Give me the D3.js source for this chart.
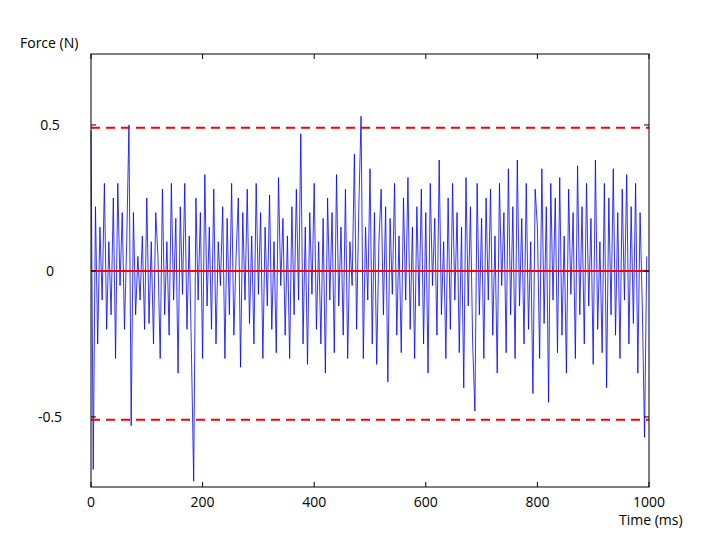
<!DOCTYPE html>
<html>
<head>
<meta charset="utf-8">
<script src="https://cdn.jsdelivr.net/npm/d3@7"></script>
<style>
  body { margin: 0; background: #fff; }
  text { font-family: "Open Sans", "DejaVu Sans", sans-serif; }
</style>
</head>
<body>
<script>
// force samples, one every 4 ms
const sampleStep = 4;
const forceValues = [
  0.48,-0.68,0.22,-0.25,0.15,-0.1,0.3,-0.2,0.1,-0.15,
  0.25,-0.3,0.3,-0.05,0.2,-0.2,0.1,0.5,-0.53,0.2,
  -0.15,0.05,-0.1,0.12,-0.2,0.25,-0.18,0.1,-0.25,0.2,
  0.05,-0.3,0.28,-0.15,0.1,-0.22,0.3,-0.1,0.18,-0.35,
  0.22,-0.08,0.3,-0.2,0.12,-0.28,-0.72,0.25,-0.1,0.2,
  -0.3,0.33,-0.12,0.15,-0.2,0.28,-0.25,0.1,-0.05,0.22,
  -0.3,0.18,-0.15,0.3,-0.22,0.05,0.25,-0.33,0.2,-0.1,
  0.28,-0.18,0.12,-0.25,0.3,-0.08,0.2,-0.3,0.15,-0.12,
  0.26,-0.2,0.1,-0.28,0.32,-0.05,0.18,-0.22,0.12,-0.3,
  0.22,-0.15,0.28,-0.1,0.47,-0.25,0.15,-0.32,0.2,-0.08,
  0.3,-0.2,0.1,-0.25,0.18,-0.35,0.25,-0.1,0.2,-0.28,
  0.33,-0.12,0.15,-0.22,0.28,-0.3,0.1,-0.05,0.4,-0.2,
  0.22,0.53,-0.3,0.15,-0.1,0.35,-0.25,0.2,-0.32,0.1,
  0.28,-0.15,0.22,-0.38,0.18,-0.08,0.3,-0.22,0.12,-0.28,
  0.25,-0.1,0.32,-0.2,0.15,-0.3,0.22,-0.12,0.28,-0.25,
  0.2,-0.35,0.3,-0.05,0.18,-0.22,0.38,-0.15,0.1,-0.3,
  0.25,-0.2,0.3,-0.1,0.2,-0.28,0.15,-0.4,0.32,-0.12,
  0.22,-0.25,-0.48,0.3,-0.15,0.18,-0.3,0.25,-0.1,0.28,
  -0.22,0.12,-0.35,0.3,-0.05,0.2,-0.28,0.35,-0.15,0.22,
  -0.3,0.38,-0.12,0.18,-0.25,0.3,-0.2,0.1,-0.42,0.28,
  0.15,-0.3,0.35,-0.18,0.22,-0.45,0.3,-0.1,0.25,-0.28,
  0.32,-0.22,0.12,-0.35,0.28,-0.08,0.2,-0.3,0.36,-0.15,
  0.22,-0.25,0.3,-0.12,0.18,-0.32,0.38,-0.2,0.1,-0.28,
  0.3,-0.4,0.25,-0.15,0.35,-0.22,0.2,-0.3,0.28,-0.1,
  0.33,-0.25,0.22,-0.18,0.3,-0.35,0.2,-0.12,-0.57,0.05
];
const xTicks = [0, 200, 400, 600, 800, 1000];
const yTicks = [0.5, 0, -0.5];
const yTickLabels = ["0.5", "0", "-0.5"];
const thresholds = [0.49, -0.51];

const width = 721, height = 541;
const plotLeft = 91, plotRight = 649, plotTop = 54, plotBottom = 487;

const svg = d3.select("body").append("svg")
    .attr("width", width).attr("height", height);

const x = d3.scaleLinear().domain([0, 1000]).range([plotLeft, plotRight]);
const y = d3.scaleLinear().domain([-0.74, 0.743]).range([plotBottom, plotTop]);

// signal
const line = d3.line()
    .x((d, i) => x(i * sampleStep))
    .y(d => y(d));
svg.append("path")
    .datum(forceValues)
    .attr("d", line)
    .attr("fill", "none")
    .attr("stroke", "#0000ff")
    .attr("stroke-width", 0.8);

// zero line and thresholds
svg.append("line")
    .attr("x1", plotLeft).attr("x2", plotRight)
    .attr("y1", y(0)).attr("y2", y(0))
    .attr("stroke", "red").attr("stroke-width", 2);
svg.selectAll(".thr").data(thresholds).enter().append("line")
    .attr("x1", plotLeft).attr("x2", plotRight)
    .attr("y1", d => y(d)).attr("y2", d => y(d))
    .attr("stroke", "red").attr("stroke-width", 2)
    .attr("stroke-dasharray", "9,6");

// frame
svg.append("rect")
    .attr("x", plotLeft).attr("y", plotTop)
    .attr("width", plotRight - plotLeft).attr("height", plotBottom - plotTop)
    .attr("fill", "none").attr("stroke", "#000").attr("stroke-width", 1);

// ticks (inward on all four sides)
xTicks.forEach(t => {
  svg.append("line").attr("x1", x(t)).attr("x2", x(t)).attr("y1", plotBottom).attr("y2", plotBottom - 5).attr("stroke", "#000");
  svg.append("line").attr("x1", x(t)).attr("x2", x(t)).attr("y1", plotTop).attr("y2", plotTop + 5).attr("stroke", "#000");
  svg.append("text").attr("x", x(t)).attr("y", plotBottom + 20)
      .attr("text-anchor", "middle").attr("font-size", 14).text(t);
});
yTicks.forEach((t, i) => {
  svg.append("line").attr("x1", plotLeft).attr("x2", plotLeft + 5).attr("y1", y(t)).attr("y2", y(t)).attr("stroke", "#000");
  svg.append("line").attr("x1", plotRight).attr("x2", plotRight - 5).attr("y1", y(t)).attr("y2", y(t)).attr("stroke", "#000");
  svg.append("text").attr("x", 50).attr("y", y(t) + 5)
      .attr("text-anchor", "middle").attr("font-size", 14).text(yTickLabels[i]);
});

svg.append("text").attr("x", 20).attr("y", 48).attr("font-size", 14).text("Force (N)");
svg.append("text").attr("x", 619).attr("y", 525).attr("font-size", 14).text("Time (ms)");
</script>
</body>
</html>
